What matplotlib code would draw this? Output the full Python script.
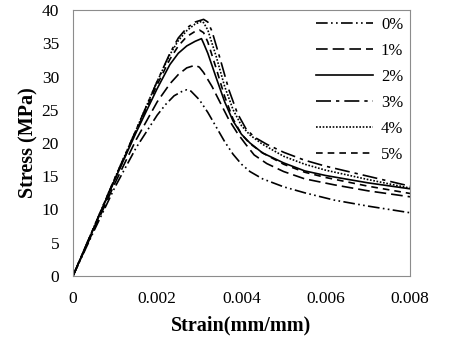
import matplotlib.pyplot as plt

plt.rcParams['font.family'] = ['Liberation Serif', 'DejaVu Serif']

# strain (mm/mm) and stress (MPa)
labels = ['0%', '1%', '2%', '3%', '4%', '5%']

strain_0 = [0, 0.0005, 0.001, 0.0015, 0.002, 0.0022, 0.0024, 0.0026, 0.0027, 0.0028, 0.003, 0.0032, 0.0034,
            0.0036, 0.0038, 0.004, 0.0042, 0.0045, 0.005, 0.0055, 0.0062, 0.007, 0.008]
stress_0 = [0, 6.8, 13.4, 19.3, 24.2, 25.8, 27.1, 27.8, 28.0, 27.8, 26.5, 24.6, 22.4,
            20.2, 18.3, 16.8, 15.7, 14.6, 13.4, 12.5, 11.4, 10.5, 9.5]

strain_1 = [0, 0.0005, 0.001, 0.0015, 0.002, 0.0023, 0.0025, 0.0027, 0.0029, 0.003, 0.0031, 0.0033, 0.0035,
            0.0037, 0.0039, 0.0041, 0.0043, 0.0046, 0.005, 0.0055, 0.0062, 0.007, 0.008]
stress_1 = [0, 7.0, 14.0, 20.5, 26.2, 28.9, 30.3, 31.3, 31.7, 31.4, 30.6, 28.5, 26.0,
            23.5, 21.5, 19.8, 18.2, 16.9, 15.7, 14.6, 13.7, 12.8, 11.9]

strain_2 = [0, 0.0005, 0.001, 0.0015, 0.002, 0.0023, 0.0025, 0.0027, 0.0029, 0.00305, 0.0031, 0.0032, 0.0034,
            0.0036, 0.0038, 0.004, 0.0042, 0.0045, 0.005, 0.0055, 0.006, 0.007, 0.008]
stress_2 = [0, 7.3, 14.6, 21.6, 28.2, 31.8, 33.5, 34.6, 35.3, 35.7, 35.0, 33.5, 29.8,
            26.2, 23.3, 21.3, 20.0, 18.5, 17.0, 15.8, 15.1, 14.0, 13.1]

strain_3 = [0, 0.0005, 0.001, 0.0015, 0.002, 0.0023, 0.0025, 0.0027, 0.0029, 0.0031, 0.0032, 0.0033, 0.0035,
            0.0037, 0.0039, 0.0041, 0.0043, 0.0046, 0.005, 0.0055, 0.006, 0.007, 0.008]
stress_3 = [0, 7.4, 14.8, 22.0, 29.3, 33.5, 35.8, 37.3, 38.2, 38.6, 38.2, 36.8, 32.5,
            28.0, 24.5, 22.2, 20.9, 19.8, 18.6, 17.4, 16.5, 15.0, 13.5]

strain_4 = [0, 0.0005, 0.001, 0.0015, 0.002, 0.0023, 0.0025, 0.0027, 0.0029, 0.00305, 0.0031, 0.0032, 0.0034,
            0.0036, 0.0038, 0.004, 0.0042, 0.0045, 0.005, 0.0055, 0.006, 0.007, 0.008]
stress_4 = [0, 7.4, 14.8, 22.0, 29.3, 33.3, 35.4, 36.9, 37.9, 38.3, 38.1, 37.0, 33.0,
            28.5, 25.0, 22.6, 21.2, 19.8, 18.0, 16.8, 15.9, 14.5, 13.2]

strain_5 = [0, 0.0005, 0.001, 0.0015, 0.002, 0.0023, 0.0025, 0.0027, 0.0029, 0.003, 0.0031, 0.0032, 0.0034,
            0.0036, 0.0038, 0.004, 0.0042, 0.0045, 0.005, 0.0055, 0.006, 0.007, 0.008]
stress_5 = [0, 7.3, 14.6, 21.8, 28.8, 32.6, 34.6, 36.0, 36.8, 37.0, 36.6, 35.2, 31.2,
            27.0, 23.6, 21.3, 19.9, 18.5, 16.8, 15.6, 14.8, 13.5, 12.4]

strains = [strain_0, strain_1, strain_2, strain_3, strain_4, strain_5]
stresses = [stress_0, stress_1, stress_2, stress_3, stress_4, stress_5]
styles = [(0, (7, 2, 1, 2, 1, 2)), (0, (7, 3)), '-', (0, (9, 3, 2, 3)), (0, (1, 1)), (0, (4, 3))]

fig = plt.figure(figsize=(4.74, 3.47), dpi=100)
ax = fig.add_axes([0.154, 0.205, 0.711, 0.766])

for x, y, ls, lab in zip(strains, stresses, styles, labels):
    ax.plot(x, y, color='black', linestyle=ls, linewidth=1.2, label=lab)

ax.set_xlim(0, 0.008)
ax.set_ylim(0, 40)
ax.set_xticks([0, 0.002, 0.004, 0.006, 0.008])
ax.set_xticklabels(['0', '0.002', '0.004', '0.006', '0.008'])
ax.set_yticks(range(0, 41, 5))
ax.tick_params(length=0, labelsize=12.5)
ax.tick_params(axis='y', pad=10)
ax.tick_params(axis='x', pad=11)
for s in ax.spines.values():
    s.set_color('#8c8c8c')

ax.set_xlabel('Strain(mm/mm)', fontsize=14.5, fontweight='bold', labelpad=6)
ax.set_ylabel('Stress (MPa)', fontsize=14.5, fontweight='bold', labelpad=2)

ax.legend(loc='upper right', bbox_to_anchor=(1.0, 1.0), frameon=False, fontsize=12,
          handlelength=3.4, labelspacing=0.6, handletextpad=0.5, borderaxespad=0.0)

fig.savefig('out.png', dpi=100)
